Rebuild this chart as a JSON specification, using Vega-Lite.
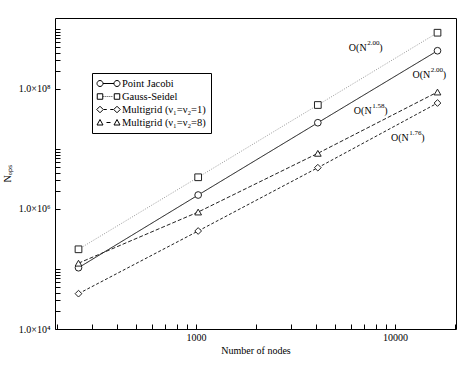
{
  "$schema": "https://vega.github.io/schema/vega-lite/v6.json",
  "width": 401,
  "height": 311,
  "autosize": "none",
  "padding": {"left": 55, "top": 18, "right": 18, "bottom": 37},
  "background": "white",
  "config": {
    "view": {"stroke": "black", "strokeWidth": 1},
    "font": "Liberation Serif"
  },
  "datasets": {
    "series": [
      {"series": "Point Jacobi", "N": 256, "ops": 105000},
      {"series": "Point Jacobi", "N": 1024, "ops": 1710000},
      {"series": "Point Jacobi", "N": 4096, "ops": 27400000},
      {"series": "Point Jacobi", "N": 16384, "ops": 434000000},
      {"series": "Gauss-Seidel", "N": 256, "ops": 213000},
      {"series": "Gauss-Seidel", "N": 1024, "ops": 3380000},
      {"series": "Gauss-Seidel", "N": 4096, "ops": 54100000},
      {"series": "Gauss-Seidel", "N": 16384, "ops": 867000000},
      {"series": "Multigrid (ν₁=ν₂=1)", "N": 256, "ops": 38800},
      {"series": "Multigrid (ν₁=ν₂=1)", "N": 1024, "ops": 430000},
      {"series": "Multigrid (ν₁=ν₂=1)", "N": 4096, "ops": 4880000},
      {"series": "Multigrid (ν₁=ν₂=1)", "N": 16384, "ops": 58400000},
      {"series": "Multigrid (ν₁=ν₂=8)", "N": 256, "ops": 125000},
      {"series": "Multigrid (ν₁=ν₂=8)", "N": 1024, "ops": 890000},
      {"series": "Multigrid (ν₁=ν₂=8)", "N": 4096, "ops": 8470000},
      {"series": "Multigrid (ν₁=ν₂=8)", "N": 16384, "ops": 89000000}
    ],
    "ann": [
      {"sup": "2.00", "N": 7210, "ops": 480000000},
      {"sup": "2.00", "N": 15070, "ops": 171000000},
      {"sup": "1.58", "N": 7640, "ops": 43500000},
      {"sup": "1.76", "N": 11750, "ops": 15400000}
    ]
  },
  "layer": [
    {
      "data": {"name": "series"},
      "mark": {"type": "line", "strokeWidth": 1},
      "encoding": {
        "x": {
          "field": "N", "type": "quantitative",
          "scale": {"type": "log", "domain": [195, 20300], "nice": false},
          "title": "Number of nodes",
          "axis": {"orient": "bottom", "values": [200, 300, 400, 500, 600, 700, 800, 900, 1000, 2000, 3000, 4000, 5000, 6000, 7000, 8000, 9000, 10000, 20000],
            "labelExpr": "datum.value == 1000 ? '1000' : datum.value == 10000 ? '10000' : ''",
            "domain": false, "grid": false, "tickSize": -5, "tickColor": "black", "tickWidth": 1, "labelPadding": 8,
            "labelFont": "Liberation Serif", "labelFontSize": 10, "labelColor": "black", "labelOverlap": false, "labelFlush": false,
            "titleFont": "Liberation Serif", "titleFontSize": 10, "titleFontWeight": "normal", "titleColor": "black", "titlePadding": 3}
        },
        "y": {
          "field": "ops", "type": "quantitative",
          "scale": {"type": "log", "domain": [10000, 1525000000], "nice": false},
          "title": "Nₒₚₛ",
          "axis": {"orient": "left", "values": [10000, 20000, 30000, 40000, 50000, 60000, 70000, 80000, 90000, 100000, 1000000, 2000000, 3000000, 4000000, 5000000, 6000000, 7000000, 8000000, 9000000, 10000000, 100000000, 200000000, 300000000, 400000000, 500000000, 600000000, 700000000, 800000000, 900000000, 1000000000],
            "labelExpr": "datum.value == 10000 ? '1.0×10⁴' : datum.value == 1000000 ? '1.0×10⁶' : datum.value == 100000000 ? '1.0×10⁸' : ''",
            "domain": false, "grid": false, "tickSize": -5, "tickColor": "black", "tickWidth": 1, "labelPadding": 10,
            "labelFont": "Liberation Serif", "labelFontSize": 10, "labelColor": "black", "labelOverlap": false, "labelFlush": false,
            "titleFont": "Liberation Serif", "titleFontSize": 10, "titleFontWeight": "normal", "titleColor": "black", "titlePadding": 6}
        },
        "strokeDash": {
          "field": "series", "type": "nominal",
          "scale": {"domain": ["Point Jacobi", "Gauss-Seidel", "Multigrid (ν₁=ν₂=1)", "Multigrid (ν₁=ν₂=8)"],
            "range": [[1, 0], [1, 1.5], [3, 2], [4, 2]]},
          "legend": null
        },
        "color": {
          "field": "series", "type": "nominal",
          "scale": {"domain": ["Point Jacobi", "Gauss-Seidel", "Multigrid (ν₁=ν₂=1)", "Multigrid (ν₁=ν₂=8)"],
            "range": ["#111111", "#999999", "#222222", "#222222"]},
          "legend": null
        }
      }
    },
    {
      "data": {"name": "series"},
      "mark": {"type": "point", "filled": true, "fill": "white", "stroke": "#222222", "strokeWidth": 1, "size": 45, "opacity": 1},
      "encoding": {
        "x": {"field": "N", "type": "quantitative"},
        "y": {"field": "ops", "type": "quantitative"},
        "shape": {
          "field": "series", "type": "nominal",
          "scale": {"domain": ["Point Jacobi", "Gauss-Seidel", "Multigrid (ν₁=ν₂=1)", "Multigrid (ν₁=ν₂=8)"],
            "range": ["circle", "square", "diamond", "triangle-up"]},
          "legend": null
        }
      }
    },
    {
      "data": {"name": "series"},
      "mark": {"type": "point", "filled": false, "color": "black", "opacity": 0, "strokeWidth": 1},
      "encoding": {
        "x": {"field": "N", "type": "quantitative"},
        "y": {"field": "ops", "type": "quantitative"},
        "shape": {
          "field": "series", "type": "nominal",
          "scale": {"domain": ["Point Jacobi", "Gauss-Seidel", "Multigrid (ν₁=ν₂=1)", "Multigrid (ν₁=ν₂=8)"],
            "range": [
              "M-1.1,0A0.6,0.6,0,1,1,-2.3,0A0.6,0.6,0,1,1,-1.1,0M-1.1,0L1.1,0M2.3,0A0.6,0.6,0,1,1,1.1,0A0.6,0.6,0,1,1,2.3,0",
              "M-2.25,-0.55H-1.15V0.55H-2.25ZM-1.0,0H-0.85M-0.6,0H-0.45M-0.2,0H-0.05M0.2,0H0.35M0.6,0H0.75M1.15,-0.55H2.25V0.55H1.15Z",
              "M-2.35,0L-1.7,-0.65L-1.05,0L-1.7,0.65ZM-0.95,0H-0.35M0.35,0H0.95M1.05,0L1.7,-0.65L2.35,0L1.7,0.65Z",
              "M-2.3,0.5L-1.7,-0.6L-1.1,0.5ZM-0.4,0H0.4M1.1,0.5L1.7,-0.6L2.3,0.5Z"
            ]},
          "legend": {
            "orient": "none", "legendX": 37, "legendY": 55, "title": null,
            "padding": 5, "strokeColor": "black", "fillColor": "white",
            "labelFont": "Liberation Serif", "labelFontSize": 10.5, "labelColor": "black",
            "symbolSize": 100, "symbolStrokeColor": "black", "symbolStrokeWidth": 1,
            "symbolFillColor": "transparent", "symbolOpacity": 1,
            "symbolOffset": 6, "labelOffset": 8, "rowPadding": 2
          }
        }
      }
    },
    {
      "data": {"name": "ann"},
      "mark": {"type": "text", "align": "right", "baseline": "middle", "fontSize": 10, "font": "Liberation Serif", "color": "black"},
      "encoding": {
        "x": {"field": "N", "type": "quantitative"},
        "y": {"field": "ops", "type": "quantitative"},
        "text": {"value": "O(N"}
      }
    },
    {
      "data": {"name": "ann"},
      "mark": {"type": "text", "align": "left", "baseline": "middle", "fontSize": 7, "font": "Liberation Serif", "color": "black", "dx": 0.5, "dy": -5},
      "encoding": {
        "x": {"field": "N", "type": "quantitative"},
        "y": {"field": "ops", "type": "quantitative"},
        "text": {"field": "sup"}
      }
    },
    {
      "data": {"name": "ann"},
      "mark": {"type": "text", "align": "left", "baseline": "middle", "fontSize": 10, "font": "Liberation Serif", "color": "black", "dx": 12.5, "dy": 0},
      "encoding": {
        "x": {"field": "N", "type": "quantitative"},
        "y": {"field": "ops", "type": "quantitative"},
        "text": {"value": ")"}
      }
    }
  ],
  "resolve": {
    "scale": {"shape": "independent"}
  }
}
